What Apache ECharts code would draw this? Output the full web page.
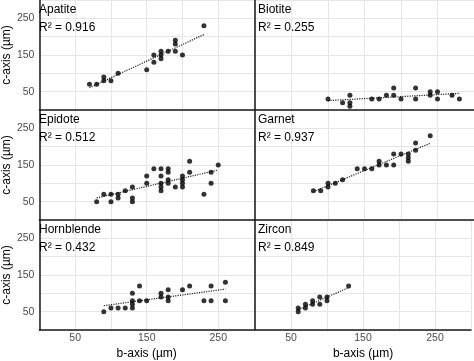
<!DOCTYPE html>
<html><head><meta charset="utf-8">
<script src="https://cdn.jsdelivr.net/npm/echarts@6/dist/echarts.min.js"></script>
<style>html,body{margin:0;padding:0;background:#fff}#c{width:474px;height:361px}</style>
</head><body><div id="c"></div>
<script>
const minerals = ['Apatite','Biotite','Epidote','Garnet','Hornblende','Zircon'];
const r2Labels = ['R² = 0.916','R² = 0.255','R² = 0.512','R² = 0.937','R² = 0.432','R² = 0.849'];
const xTickLabels = [50,150,250];
const yTickLabels = [50,150,250];
const xTitle = 'b-axis (µm)';
const yTitle = 'c-axis (µm)';

const apatiteB = [70,80,90,90,100,110,150,160,160,170,170,170,180,190,190,190,200,230];
const apatiteC = [70,70,90,80,80,100,110,150,130,160,150,140,160,190,180,160,150,230];
const biotiteB = [100,120,130,130,130,160,170,180,190,190,200,220,220,240,240,250,250,270,280];
const biotiteC = [30,20,40,20,10,30,30,40,60,40,30,60,30,50,40,50,30,40,30];
const epidoteB = [80,90,100,100,110,110,120,130,130,130,150,150,160,170,170,170,170,170,180,180,180,180,190,200,200,200,200,210,210,230,240,240,250];
const epidoteC = [50,70,70,50,70,60,80,90,60,50,120,100,140,140,120,100,90,80,140,130,110,100,90,120,110,100,90,160,130,70,130,100,150];
const garnetB = [80,90,100,100,110,120,140,150,160,170,170,180,190,190,200,210,210,210,220,220,240];
const garnetC = [80,80,100,90,100,110,140,140,140,160,150,150,180,150,180,180,170,160,210,190,230];
const hornblendeB = [90,100,110,120,130,130,130,130,140,140,150,170,170,180,180,180,200,210,230,240,240,260,260];
const hornblendeC = [50,60,60,60,100,80,70,60,120,80,80,100,90,110,90,80,110,120,80,120,80,130,80];
const zirconB = [60,60,70,70,80,80,90,90,100,100,130];
const zirconC = [60,50,70,60,80,70,90,70,90,80,120];

const bData = [apatiteB, biotiteB, epidoteB, garnetB, hornblendeB, zirconB];
const cData = [apatiteC, biotiteC, epidoteC, garnetC, hornblendeC, zirconC];

function fit(xs, ys) {
  const n = xs.length;
  const mx = xs.reduce((a,b)=>a+b,0)/n, my = ys.reduce((a,b)=>a+b,0)/n;
  let sxy=0, sxx=0;
  for (let i=0;i<n;i++){ sxy+=(xs[i]-mx)*(ys[i]-my); sxx+=(xs[i]-mx)**2; }
  const b = sxy/sxx, a = my - b*mx;
  const x0 = Math.min(...xs), x1 = Math.max(...xs);
  return [[x0, a+b*x0],[x1, a+b*x1]];
}

const FONT = 'Liberation Sans, Arial, sans-serif';
const grids=[], xAxes=[], yAxes=[], series=[], titles=[];
const colLeft=[36,255], colWidth=[218,219], rowH=110;
for (let i=0;i<minerals.length;i++){
  const col=i%2, row=Math.floor(i/2);
  const top=row*rowH, left=colLeft[col];
  grids.push({left:left, top:top, width:colWidth[col], height:rowH, containLabel:false});
  const bottomRow = row===2, leftCol = col===0;
  xAxes.push({type:'value', gridIndex:i, min:0, max:300, interval:50,
    axisLine:{show:true, onZero:false, lineStyle:{color:'#1a1a1a', width:1.5}},
    axisTick:{show:false},
    axisLabel:{show:bottomRow, margin:3, color:'#4d4d4d', fontSize:10.5, fontFamily:FONT,
      formatter:v=>xTickLabels.includes(v)?String(v):''},
    splitLine:{show:true, lineStyle:{color:'#e6e6e6', width:1}},
    name: bottomRow?xTitle:'', nameLocation:'middle', nameGap:18,
    nameTextStyle:{color:'#000', fontSize:12, fontFamily:FONT}
  });
  yAxes.push({type:'value', gridIndex:i, min:0, max:300, interval:50,
    axisLine:{show:true, onZero:false, lineStyle:{color:'#1a1a1a', width:1.5}},
    axisTick:{show:false},
    axisLabel:{show:leftCol, margin:5, color:'#4d4d4d', fontSize:10.5, fontFamily:FONT,
      formatter:v=>yTickLabels.includes(v)?String(v):''},
    splitLine:{show:true, lineStyle:{color:'#e6e6e6', width:1}},
    name: leftCol?yTitle:'', nameLocation:'middle', nameGap:24, nameRotate:90,
    nameTextStyle:{color:'#000', fontSize:12, fontFamily:FONT}
  });
  series.push({type:'scatter', xAxisIndex:i, yAxisIndex:i, symbol:'circle', symbolSize:5,
    itemStyle:{color:'#000'}, data:bData[i].map((b,k)=>[b,cData[i][k]]), z:3});
  series.push({type:'line', xAxisIndex:i, yAxisIndex:i, showSymbol:false, symbol:'none',
    lineStyle:{color:'#222', width:1.2, type:'dotted'}, data:fit(bData[i], cData[i]), z:2});
  titles.push({text:minerals[i], left:left+3, top:top+4, padding:0,
    textStyle:{color:'#000', fontSize:12, fontWeight:'normal', fontFamily:FONT}});
  titles.push({text:r2Labels[i], left:left+3, top:top+22, padding:0,
    textStyle:{color:'#000', fontSize:12, fontWeight:'normal', fontFamily:FONT}});
}
const chart = echarts.init(document.getElementById('c'), null, {renderer:'canvas'});
chart.setOption({animation:false, backgroundColor:'#fff', title:titles, grid:grids, xAxis:xAxes, yAxis:yAxes, series:series});
</script></body></html>
